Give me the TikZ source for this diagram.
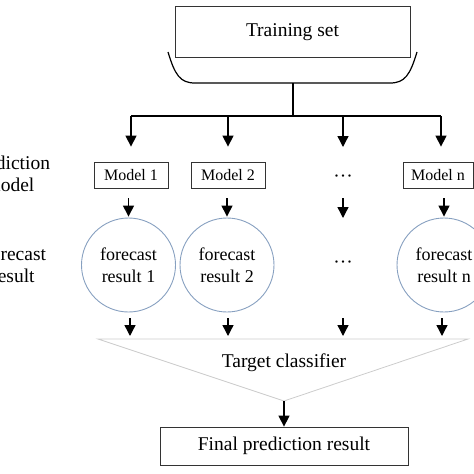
\documentclass[tikz,border=0pt]{standalone}
\usepackage{fontspec}
\setmainfont{Liberation Serif}
\usetikzlibrary{arrows.meta}
\definecolor{ringblue}{RGB}{135,160,192}
\begin{document}
\begin{tikzpicture}[x=1pt,y=-1pt,
  box/.style={draw=black!80, line width=0.8pt, inner sep=0pt},
  big/.style={font=\fontsize{19.5}{22}\selectfont},
  mid/.style={font=\fontsize{18}{22}\selectfont, align=center},
  small/.style={font=\fontsize{16}{19}\selectfont},
  res/.style={circle, draw=ringblue, line width=0.9pt, minimum size=94pt, inner sep=0pt, mid},
  arr/.style={-{Triangle[length=11pt,width=11pt]}, line width=1.4pt},
  line/.style={line width=1.4pt},
  dots/.style={font=\fontsize{19.5}{22}\selectfont, inner sep=0pt}]
\useasboundingbox (0,0) rectangle (474,474);
\clip (0,0) rectangle (474,474);

% Training set
\node[box, big, minimum width=235pt, minimum height=51pt] (ts) at (292.5,32) {Training set};
\draw[line width=1.2pt] (168,52) .. controls (175,75) and (180,83) .. (195,83) -- (390,83) .. controls (405,83) and (410,75) .. (417,52);
\coordinate (b) at (293,83);
\coordinate (s) at (293,116);
\coordinate (h1) at (131,116);
\coordinate (h2) at (228,116);
\coordinate (h3) at (343,116);
\coordinate (h4) at (441,116);
\draw[line] (b) -- (s);
\draw[line] (h1) -- (h4);

% Models
\node[box, small, minimum width=74pt, minimum height=26pt] (m1) at (131,175) {Model 1};
\node[box, small, minimum width=74pt, minimum height=26pt] (m2) at (228,175) {Model 2};
\node[dots] (d1) at (343,179) {···};
\node[box, small, minimum width=70pt, minimum height=26pt] (m4) at (438,175) {Model n};

\draw[arr, shorten >=15pt] (h1) -- (m1.north);
\draw[arr, shorten >=15pt] (h2) -- (m2.north);
\draw[arr] (h3) -- (343,147) coordinate (d1t);
\draw[arr, shorten >=15pt] (h4) -- (m4.north -| h4);

% Forecast results
\node[res] (f1) at (128.5,265) {forecast\\result 1};
\node[res] (f2) at (227,265) {forecast\\result 2};
\node[dots] (d2) at (343,265) {···};
\node[res] (f4) at (444,265) {forecast\\result n};

\draw[arr, shorten <=10pt, shorten >=1pt] (m1.south -| f1) -- (f1.north);
\draw[arr, shorten <=10pt, shorten >=1pt] (m2.south -| f2) -- (f2.north);
\draw[arr] (343,198) coordinate (d2s) -- (343,218) coordinate (d2t);
\draw[arr, shorten <=10pt, shorten >=1pt] (m4.south -| f4) -- (f4.north);

% Target classifier
\coordinate (tl) at (98,339);
\coordinate (tr) at (468,339);
\coordinate (ta) at (284,401);
\draw[black!20, line width=0.8pt] (tl) -- (tr) -- (ta) -- cycle;
\node[big] (tc) at (284,363) {Target classifier};

\coordinate (e1) at (130,336);
\coordinate (e2) at (228,336);
\coordinate (e3) at (343,336);
\coordinate (e4) at (442,336);
\draw[arr, shorten <=6pt] (f1.south -| e1) -- (e1);
\draw[arr, shorten <=6pt] (f2.south -| e2) -- (e2);
\draw[arr] (343,318) coordinate (d3s) -- (e3);
\draw[arr, shorten <=6pt] (f4.south -| e4) -- (e4);

% Final
\node[box, big, minimum width=248pt, minimum height=38pt] (fp) at (284,446) {Final prediction result};
\draw[arr] (ta) -- (fp.north);

% Left labels
\node[big, align=center] (lp) at (10,174) {Prediction\\model};
\node[big, align=center] (lf) at (13,265) {Forecast\\result};
\end{tikzpicture}
\end{document}
